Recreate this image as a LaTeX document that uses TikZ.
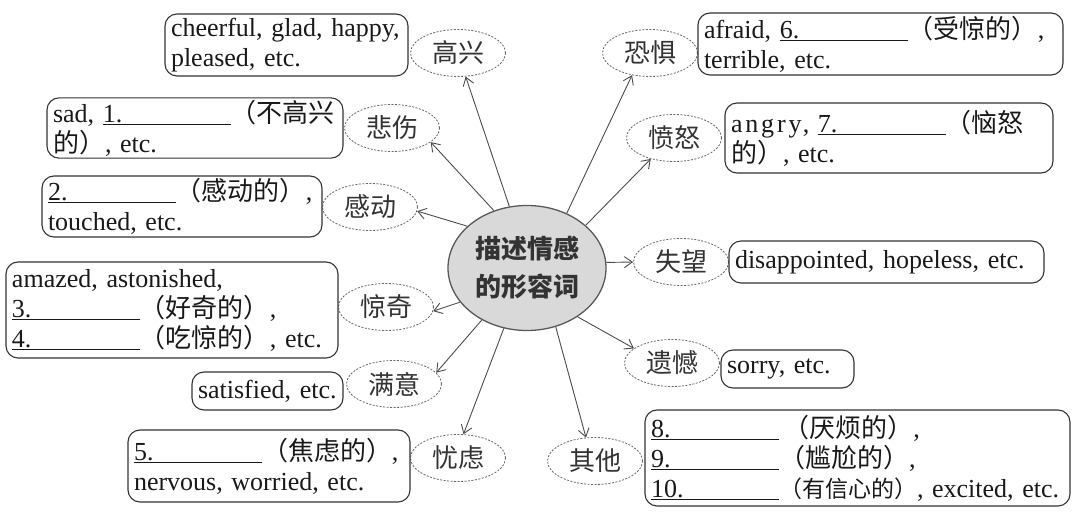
\documentclass[tikz,border=0pt]{standalone}
\usepackage{fontspec}
\setmainfont{Liberation Serif}
\newfontfamily\cjk{Noto Sans CJK SC}
\usetikzlibrary{shapes}
\usetikzlibrary{arrows.meta}
\hyphenpenalty=10000
\exhyphenpenalty=10000
\newcommand\blank[1]{\underline{\makebox[128pt][l]{#1.}}}

\begin{document}
\begin{tikzpicture}[x=1pt,y=-1pt,
  wordbox/.style={draw=black!80, line width=1.1pt, rounded corners=12pt, inner xsep=6pt, inner ysep=2pt,
    align=left, text=black!90, font=\fontsize{26}{30}\selectfont},
  feel/.style={ellipse, draw=black!60, dash pattern=on 2pt off 1.5pt, line width=0.8pt,
    minimum width=95pt, minimum height=47pt, inner sep=0pt, text=black!80, font=\cjk\fontsize{26}{30}\selectfont},
  hub/.style={ellipse, draw=black!65, fill=black!15, line width=1.3pt, minimum width=158pt, minimum height=125pt,
    inner sep=0pt, align=center, text=black!80, font=\cjk\bfseries\fontsize{26}{38}\selectfont},
  link/.style={draw=black!70, line width=0.9pt, -{Straight Barb[length=8pt,width=11pt]}}]
\useasboundingbox (0,0) rectangle (1080,518);
\node[hub] (c) at (527,268) {描述情感\\的形容词};
% the emotions
\node[feel] (happy) at (458,53) {高兴};
\node[feel] (sad) at (392,128) {悲伤};
\node[feel] (moved) at (370,207) {感动};
\node[feel] (surprised) at (386,307) {惊奇};
\node[feel] (pleased) at (394,384) {满意};
\node[feel] (worried) at (458,458) {忧虑};
\node[feel] (afraid) at (650,53) {恐惧};
\node[feel] (angry) at (674,138) {愤怒};
\node[feel] (letdown) at (681,262) {失望};
\node[feel] (sorry) at (672,363) {遗憾};
\node[feel] (other) at (595,461) {其他};
% the words, left column
\node[wordbox, text width=231pt, minimum height=62pt] (happyw) at (286.5,45) {cheerful,~glad,~happy,\\pleased,~etc.};
\node[wordbox, text width=284pt, minimum height=60pt] (sadw) at (195,128) {sad,~\blank{1}{\cjk （不高兴}\\{\cjk 的）},~etc.};
\node[wordbox, text width=268pt, minimum height=61pt] (movedw) at (182,206.5) {\blank{2}{\cjk （感动的）},\\touched,~etc.};
\node[wordbox, text width=320pt, minimum height=96pt] (surprisedw) at (172,310) {amazed,~astonished,\\\blank{3}{\cjk （好奇的）},\\\blank{4}{\cjk （吃惊的）},~etc.};
\node[wordbox, text width=139pt, minimum height=38pt] (pleasedw) at (267.5,391) {satisfied,~etc.};
\node[wordbox, text width=270pt, minimum height=72pt] (worriedw) at (269,466) {\blank{5}{\cjk （焦虑的）},\\nervous,~worried,~etc.};
% the words, right column
\node[wordbox, text width=353pt, minimum height=62pt] (afraidw) at (880.5,44) {afraid,~\blank{6}{\cjk （受惊的）},\\terrible,~etc.};
\node[wordbox, text width=316pt, minimum height=70pt] (angryw) at (889,138) {{\addfontfeatures{LetterSpace=11}angry,}~\blank{7}{\cjk （恼怒}\\{\cjk 的）},~etc.};
\node[wordbox, text width=303pt, minimum height=42pt] (letdownw) at (886.5,262) {disappointed,~hopeless,~etc.};
\node[wordbox, text width=121pt, minimum height=38pt] (sorryw) at (787.5,369) {sorry,~etc.};
\node[wordbox, text width=413pt, minimum height=96pt] (otherw) at (857.5,458) {\blank{8}\,{\cjk （厌烦的）},\\\blank{9}{\cjk （尴尬的）},\\\blank{10}{\cjk\fontsize{23}{30}\selectfont （有信心的）},~excited,~etc.};
% arrows out of the hub
\draw[link] (c.106) -- (happy.-72);
\draw[link] (c.120) -- (sad.-20);
\draw[link] (c.145) -- (moved.-5);
\draw[link] (c.207) -- (surprised.-5);
\draw[link] (c.229) -- (pleased.15);
\draw[link] (c.249) -- (worried.77);
\draw[link] (c.54) -- (afraid.231);
\draw[link] (c.36) -- (angry.222);
\draw[link] (c.4) -- (letdown.west);
\draw[link] (c.316) -- (sorry.159);
\draw[link] (c.296) -- (other.111);
\end{tikzpicture}
\end{document}
